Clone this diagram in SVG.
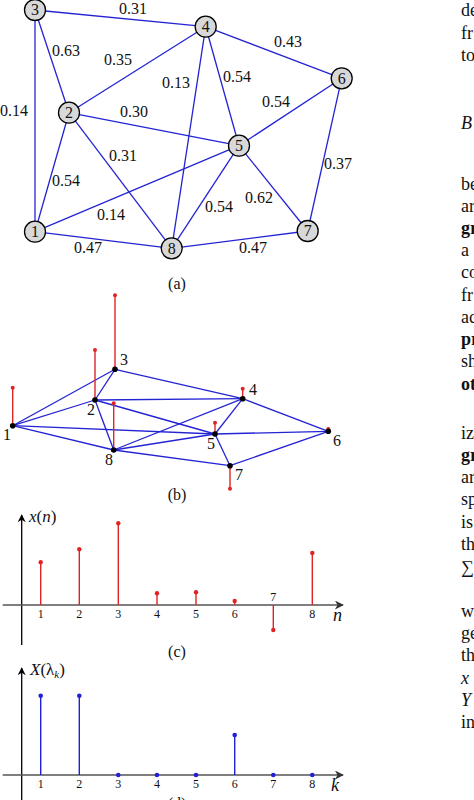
<svg xmlns="http://www.w3.org/2000/svg" width="474" height="800" viewBox="0 0 474 800">
<defs>
<style>
.e{stroke:#2424d4;stroke-width:1.3;fill:none}
.n circle{fill:#d8d8d8;stroke:#000;stroke-width:1.3}
.nl{font-family:'Liberation Serif',serif;font-size:16px;text-anchor:middle;fill:#111}
.wl{font-family:'Liberation Serif',serif;font-size:16px;text-anchor:middle;fill:#111}
.cap{font-family:'Liberation Serif',serif;font-size:16px;text-anchor:middle;fill:#111}
.bl{font-family:'Liberation Serif',serif;font-size:16px;fill:#111}
.rs{stroke:#e02424;stroke-width:1.4}
.rd{fill:#e02424}
.bs{stroke:#2020d8;stroke-width:1.4}
.bd{fill:#2020d8}
.bk{fill:#000}
.tk{font-family:'Liberation Serif',serif;font-size:12px;text-anchor:middle;fill:#111}
.ax{stroke:#000;stroke-width:1.3}
.axx{stroke:#555;stroke-width:1.6}
.pt{font-family:'Liberation Serif',serif;font-size:18px;fill:#111}
.it{font-family:'Liberation Serif',serif;font-style:italic;fill:#111}
</style>
<marker id="ar" viewBox="0 0 10 10" refX="9" refY="5" markerWidth="8" markerHeight="8" orient="auto" markerUnits="userSpaceOnUse">
<path d="M0,0 L10,5 L0,10 L3,5 Z" fill="#000"/>
</marker>
<marker id="arg" viewBox="0 0 10 10" refX="9" refY="5" markerWidth="9" markerHeight="9" orient="auto" markerUnits="userSpaceOnUse">
<path d="M0,0 L10,5 L0,10 L3,5 Z" fill="#333"/>
</marker>
</defs>

<!-- (a) graph -->
<g id="edges-a">
<line class="e" x1="35" y1="10" x2="205.7" y2="26.7"/>
<line class="e" x1="35" y1="10" x2="69" y2="112.7"/>
<line class="e" x1="35" y1="10" x2="35" y2="231.7"/>
<line class="e" x1="69" y1="112.7" x2="205.7" y2="26.7"/>
<line class="e" x1="69" y1="112.7" x2="239" y2="145.7"/>
<line class="e" x1="69" y1="112.7" x2="35" y2="231.7"/>
<line class="e" x1="69" y1="112.7" x2="171.7" y2="248.3"/>
<line class="e" x1="205.7" y1="26.7" x2="171.7" y2="248.3"/>
<line class="e" x1="205.7" y1="26.7" x2="239" y2="145.7"/>
<line class="e" x1="205.7" y1="26.7" x2="341.7" y2="78.3"/>
<line class="e" x1="239" y1="145.7" x2="341.7" y2="78.3"/>
<line class="e" x1="239" y1="145.7" x2="35" y2="231.7"/>
<line class="e" x1="239" y1="145.7" x2="171.7" y2="248.3"/>
<line class="e" x1="239" y1="145.7" x2="307.7" y2="231"/>
<line class="e" x1="341.7" y1="78.3" x2="307.7" y2="231"/>
<line class="e" x1="35" y1="231.7" x2="171.7" y2="248.3"/>
<line class="e" x1="171.7" y1="248.3" x2="307.7" y2="231"/>
</g>
<g id="weights-a">
<text class="wl" x="133" y="14">0.31</text>
<text class="wl" x="66" y="56">0.63</text>
<text class="wl" x="118" y="65">0.35</text>
<text class="wl" x="176" y="88">0.13</text>
<text class="wl" x="237" y="82">0.54</text>
<text class="wl" x="288" y="47">0.43</text>
<text class="wl" x="276" y="107">0.54</text>
<text class="wl" x="14" y="116">0.14</text>
<text class="wl" x="134" y="117">0.30</text>
<text class="wl" x="66" y="186">0.54</text>
<text class="wl" x="123" y="161">0.31</text>
<text class="wl" x="111" y="220">0.14</text>
<text class="wl" x="219" y="212">0.54</text>
<text class="wl" x="259" y="203">0.62</text>
<text class="wl" x="338" y="169">0.37</text>
<text class="wl" x="88" y="253">0.47</text>
<text class="wl" x="253" y="253">0.47</text>
</g>
<g id="a1" class="n"><circle cx="35" cy="231.7" r="10.5"/><text class="nl" x="35" y="237">1</text></g>
<g id="a2" class="n"><circle cx="69" cy="112.7" r="10.5"/><text class="nl" x="69" y="118">2</text></g>
<g id="a3" class="n"><circle cx="35" cy="10" r="10.5"/><text class="nl" x="35" y="15.3">3</text></g>
<g id="a4" class="n"><circle cx="205.7" cy="26.7" r="10.5"/><text class="nl" x="205.7" y="32">4</text></g>
<g id="a5" class="n"><circle cx="239" cy="145.7" r="10.5"/><text class="nl" x="239" y="151">5</text></g>
<g id="a6" class="n"><circle cx="341.7" cy="78.3" r="10.5"/><text class="nl" x="341.7" y="83.6">6</text></g>
<g id="a7" class="n"><circle cx="307.7" cy="231" r="10.5"/><text class="nl" x="307.7" y="236.3">7</text></g>
<g id="a8" class="n"><circle cx="171.7" cy="248.3" r="10.5"/><text class="nl" x="171.7" y="253.6">8</text></g>
<text class="cap" x="177" y="289">(a)</text>

<!-- (b) graph with signal -->
<g id="edges-b">
<line class="e" x1="12.7" y1="425.7" x2="115" y2="369.3"/>
<line class="e" x1="12.7" y1="425.7" x2="95" y2="400"/>
<line class="e" x1="12.7" y1="425.7" x2="215" y2="434"/>
<line class="e" x1="12.7" y1="425.7" x2="113.7" y2="450"/>
<line class="e" x1="95" y1="400" x2="115" y2="369.3"/>
<line class="e" x1="95" y1="400" x2="242.7" y2="398.7"/>
<line class="e" x1="95" y1="400" x2="215" y2="434"/>
<line class="e" x1="95" y1="400" x2="113.7" y2="450"/>
<line class="e" x1="115" y1="369.3" x2="242.7" y2="398.7"/>
<line class="e" x1="242.7" y1="398.7" x2="113.7" y2="450"/>
<line class="e" x1="242.7" y1="398.7" x2="215" y2="434"/>
<line class="e" x1="242.7" y1="398.7" x2="328.3" y2="431.3"/>
<line class="e" x1="215" y1="434" x2="328.3" y2="431.3"/>
<line class="e" x1="215" y1="434" x2="113.7" y2="450"/>
<line class="e" x1="215" y1="434" x2="230" y2="465.7"/>
<line class="e" x1="113.7" y1="450" x2="230" y2="465.7"/>
<line class="e" x1="230" y1="465.7" x2="328.3" y2="431.3"/>
</g>
<g id="b1"><line class="rs" x1="12.7" y1="425.7" x2="12.7" y2="387.7"/><circle class="rd" cx="12.7" cy="387.7" r="2"/><circle class="bk" cx="12.7" cy="425.7" r="2.8"/><text class="bl" x="3" y="440">1</text></g>
<g id="b2"><line class="rs" x1="95" y1="400" x2="95" y2="350"/><circle class="rd" cx="95" cy="350" r="2"/><circle class="bk" cx="95" cy="400" r="2.8"/><text class="bl" x="87" y="415">2</text></g>
<g id="b3"><line class="rs" x1="115" y1="369.3" x2="115" y2="295.3"/><circle class="rd" cx="115" cy="295.3" r="2"/><circle class="bk" cx="115" cy="369.3" r="2.8"/><text class="bl" x="120" y="365">3</text></g>
<g id="b4"><line class="rs" x1="242.7" y1="398.7" x2="242.7" y2="388.7"/><circle class="rd" cx="242.7" cy="388.7" r="2"/><circle class="bk" cx="242.7" cy="398.7" r="2.8"/><text class="bl" x="249" y="395">4</text></g>
<g id="b5"><line class="rs" x1="215" y1="434" x2="215" y2="422.7"/><circle class="rd" cx="215" cy="422.7" r="2"/><circle class="bk" cx="215" cy="434" r="2.8"/><text class="bl" x="207" y="449">5</text></g>
<g id="b6"><line class="rs" x1="328.3" y1="431.3" x2="328.3" y2="429"/><circle class="rd" cx="328.3" cy="429" r="2"/><circle class="bk" cx="328.3" cy="431.3" r="2.8"/><text class="bl" x="333" y="446">6</text></g>
<g id="b7"><line class="rs" x1="230" y1="465.7" x2="230" y2="488.7"/><circle class="rd" cx="230" cy="488.7" r="2"/><circle class="bk" cx="230" cy="465.7" r="2.8"/><text class="bl" x="235" y="480">7</text></g>
<g id="b8"><line class="rs" x1="113.7" y1="450" x2="113.7" y2="403.3"/><circle class="rd" cx="113.7" cy="403.3" r="2"/><circle class="bk" cx="113.7" cy="450" r="2.8"/><text class="bl" x="105" y="465">8</text></g>
<text class="cap" x="177" y="500">(b)</text>

<!-- (c) signal plot -->
<g id="plot-c">
<line class="ax" x1="21.7" y1="645" x2="21.7" y2="515" marker-end="url(#ar)"/>
<line class="axx" x1="2.7" y1="605" x2="343" y2="605" marker-end="url(#arg)"/>
<text class="it" x="29" y="522" font-size="17">x<tspan font-style="normal">(</tspan>n<tspan font-style="normal">)</tspan></text>
<text class="it" x="333" y="621" font-size="18">n</text>
<line class="rs" x1="40.7" y1="605" x2="40.7" y2="562.3"/><circle class="rd" cx="40.7" cy="562.3" r="2.2"/>
<line class="rs" x1="79.3" y1="605" x2="79.3" y2="549.3"/><circle class="rd" cx="79.3" cy="549.3" r="2.2"/>
<line class="rs" x1="118.3" y1="605" x2="118.3" y2="523.3"/><circle class="rd" cx="118.3" cy="523.3" r="2.2"/>
<line class="rs" x1="157" y1="605" x2="157" y2="593.3"/><circle class="rd" cx="157" cy="593.3" r="2.2"/>
<line class="rs" x1="196" y1="605" x2="196" y2="592.3"/><circle class="rd" cx="196" cy="592.3" r="2.2"/>
<line class="rs" x1="234.7" y1="605" x2="234.7" y2="601"/><circle class="rd" cx="234.7" cy="601" r="2.2"/>
<line class="rs" x1="273.3" y1="605" x2="273.3" y2="630"/><circle class="rd" cx="273.3" cy="630" r="2.2"/>
<line class="rs" x1="312.3" y1="605" x2="312.3" y2="553"/><circle class="rd" cx="312.3" cy="553" r="2.2"/>
<text class="tk" x="40.7" y="618">1</text>
<text class="tk" x="79.3" y="618">2</text>
<text class="tk" x="118.3" y="618">3</text>
<text class="tk" x="157" y="618">4</text>
<text class="tk" x="196" y="618">5</text>
<text class="tk" x="234.7" y="618">6</text>
<text class="tk" x="273.3" y="601">7</text>
<text class="tk" x="312.3" y="618">8</text>
</g>
<text class="cap" x="177" y="657">(c)</text>

<!-- (d) spectrum plot -->
<g id="plot-d">
<line class="ax" x1="21.7" y1="800" x2="21.7" y2="668" marker-end="url(#ar)"/>
<line class="axx" x1="2.7" y1="775" x2="343" y2="775" marker-end="url(#arg)"/>
<text class="it" x="30" y="675" font-size="17">X<tspan font-style="normal">(λ</tspan><tspan font-size="11" dy="3">k</tspan><tspan font-style="normal" dy="-3">)</tspan></text>
<text class="it" x="331" y="791" font-size="18">k</text>
<line class="bs" x1="40.7" y1="775" x2="40.7" y2="695.7"/><circle class="bd" cx="40.7" cy="695.7" r="2.3"/>
<line class="bs" x1="79.3" y1="775" x2="79.3" y2="695.7"/><circle class="bd" cx="79.3" cy="695.7" r="2.3"/>
<circle class="bd" cx="118.3" cy="775" r="2.3"/>
<circle class="bd" cx="157" cy="775" r="2.3"/>
<circle class="bd" cx="196" cy="775" r="2.3"/>
<line class="bs" x1="234.7" y1="775" x2="234.7" y2="735"/><circle class="bd" cx="234.7" cy="735" r="2.3"/>
<circle class="bd" cx="273.3" cy="775" r="2.3"/>
<circle class="bd" cx="312.3" cy="775" r="2.3"/>
<text class="tk" x="40.7" y="788">1</text>
<text class="tk" x="79.3" y="788">2</text>
<text class="tk" x="118.3" y="788">3</text>
<text class="tk" x="157" y="788">4</text>
<text class="tk" x="196" y="788">5</text>
<text class="tk" x="234.7" y="788">6</text>
<text class="tk" x="273.3" y="788">7</text>
<text class="tk" x="312.3" y="788">8</text>
</g>
<text class="cap" x="177" y="809">(d)</text>

<!-- clipped page text on the right -->
<g id="page-text">
<text class="pt" x="461" y="16">de</text>
<text class="pt" x="461" y="39">fr</text>
<text class="pt" x="461" y="61">to</text>
<text class="pt" x="461" y="129" font-style="italic">B</text>
<text class="pt" x="461" y="190">be</text>
<text class="pt" x="461" y="212">ar</text>
<text class="pt" x="461" y="234" font-weight="bold">gr</text>
<text class="pt" x="461" y="256">a</text>
<text class="pt" x="461" y="278">co</text>
<text class="pt" x="461" y="301">fr</text>
<text class="pt" x="461" y="323">ac</text>
<text class="pt" x="461" y="345" font-weight="bold">pr</text>
<text class="pt" x="461" y="367">sh</text>
<text class="pt" x="461" y="390" font-weight="bold">ot</text>
<text class="pt" x="461" y="439">iz</text>
<text class="pt" x="461" y="461" font-weight="bold">gr</text>
<text class="pt" x="461" y="483">ar</text>
<text class="pt" x="461" y="505">sp</text>
<text class="pt" x="461" y="528">is</text>
<text class="pt" x="461" y="550">th</text>
<text class="pt" x="461" y="573">∑</text>
<text class="pt" x="461" y="617">w</text>
<text class="pt" x="461" y="639">ge</text>
<text class="pt" x="461" y="661">th</text>
<text class="pt" x="461" y="684" font-style="italic">x</text>
<text class="pt" x="461" y="706" font-style="italic">Y</text>
<text class="pt" x="461" y="728">in</text>
</g>
</svg>
